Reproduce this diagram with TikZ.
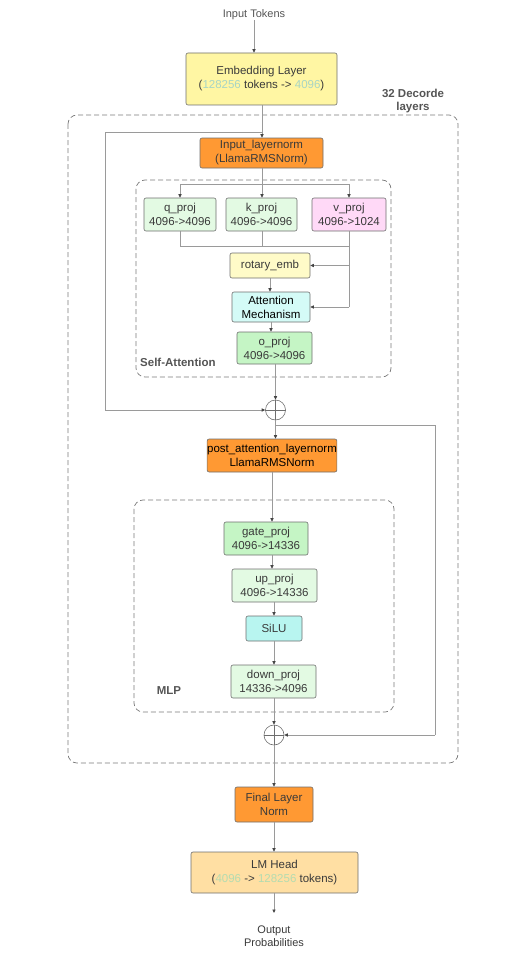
\documentclass[tikz,border=0pt]{standalone}
\usepackage{fontspec}
\setmainfont{Liberation Sans}
\usetikzlibrary{arrows.meta,calc}
\definecolor{linec}{HTML}{9A9A9A}
\definecolor{tipc}{HTML}{444444}
\definecolor{boxline}{HTML}{6E6E6E}
\definecolor{txt}{HTML}{3A3A3A}
\definecolor{lbl}{HTML}{555555}
\definecolor{dashc}{HTML}{7A7A7A}
\definecolor{embfill}{HTML}{FFF6A3}
\definecolor{orangefill}{HTML}{FF9933}
\definecolor{lightgreen}{HTML}{E3FAE3}
\definecolor{midgreen}{HTML}{C5F5C5}
\definecolor{pinkfill}{HTML}{FFD9F7}
\definecolor{rotfill}{HTML}{FFFBC8}
\definecolor{attfill}{HTML}{D4FBF7}
\definecolor{silufill}{HTML}{B8F5F0}
\definecolor{lmfill}{HTML}{FFDFA3}
\definecolor{tealnum}{HTML}{A8D5C4}
\definecolor{greennum}{HTML}{B4DCB0}
\begin{document}
\begin{tikzpicture}[x=1pt,y=-1pt,
  box/.style={draw=boxline, rounded corners=2pt, line width=0.6pt, align=center,
    inner sep=0pt, font=\fontsize{11.5}{14}\selectfont, text=txt},
  conn/.style={draw=linec, line width=0.7pt},
  arr/.style={conn, -{Triangle[length=3.5pt,width=3.2pt,color=tipc]}},
  grp/.style={draw=dashc, dash pattern=on 5pt off 3pt, line width=0.7pt, rounded corners=9pt},
  grplabel/.style={font=\fontsize{11.5}{13}\selectfont\bfseries, text=lbl, align=center, inner sep=0pt},
  plainlabel/.style={font=\fontsize{11}{13}\selectfont, text=txt, align=center, inner sep=0pt},
  plus/.style={circle, draw=boxline, line width=0.6pt, minimum size=20pt, inner sep=0pt}
]
\useasboundingbox (0,0) rectangle (522,963);

% group boxes
\draw[grp] (68,115) rectangle (458,763);
\draw[grp] (136,180) rectangle (391,377);
\draw[grp] (134,500) rectangle (394,712);
\node[grplabel] (declbl) at (413,101) {32 Decorde\\layers};
\node[grplabel, anchor=west] (salbl) at (140,362) {Self-Attention};
\node[grplabel] (mlplbl) at (169,691) {MLP};

% nodes
\node[plainlabel, text=lbl] (inp) at (254,15) {Input Tokens};
\node[box, fill=embfill, minimum width=151pt, minimum height=52pt] (emb) at (261.5,79)
  {Embedding Layer\\(\textcolor{tealnum}{128256} tokens -> \textcolor{tealnum}{4096})};
\node[box, fill=orangefill, minimum width=123pt, minimum height=30pt] (inorm) at (261.5,153)
  {Input\_layernorm\\(LlamaRMSNorm)};
\node[box, fill=lightgreen, minimum width=72pt, minimum height=33pt] (q) at (180,214.5)
  {q\_proj\\4096->4096};
\node[box, fill=lightgreen, minimum width=71pt, minimum height=33pt] (k) at (261.5,214.5)
  {k\_proj\\4096->4096};
\node[box, fill=pinkfill, minimum width=74pt, minimum height=33pt] (v) at (349,214.5)
  {v\_proj\\4096->1024};
\node[box, fill=rotfill, minimum width=80pt, minimum height=25pt] (rot) at (270,265.5)
  {rotary\_emb};
\node[box, fill=attfill, minimum width=78pt, minimum height=30pt, text=black] (att) at (271,307)
  {Attention\\Mechanism};
\node[box, fill=midgreen, minimum width=75pt, minimum height=32pt] (o) at (274.5,348)
  {o\_proj\\4096->4096};
\node[plus] (p1) at (275.5,410) {};
\node[box, fill=orangefill, minimum width=128pt, minimum height=33pt, text=black] (post) at (272,455.5)
  {post\_attention\_layernorm\\LlamaRMSNorm};
\node[box, fill=midgreen, minimum width=84pt, minimum height=33pt] (gate) at (266,538.5)
  {gate\_proj\\4096->14336};
\node[box, fill=lightgreen, minimum width=85pt, minimum height=33pt] (up) at (274.5,585.5)
  {up\_proj\\4096->14336};
\node[box, fill=silufill, minimum width=56pt, minimum height=25pt] (silu) at (274,628.5)
  {SiLU};
\node[box, fill=lightgreen, minimum width=85pt, minimum height=33pt] (down) at (273.5,681.5)
  {down\_proj\\14336->4096};
\node[plus] (p2) at (274,735) {};
\node[box, fill=orangefill, minimum width=78pt, minimum height=35pt] (fin) at (274,804.5)
  {Final Layer\\Norm};
\node[box, fill=lmfill, minimum width=167pt, minimum height=41pt] (lm) at (274.5,872.5)
  {LM Head\\(\textcolor{greennum}{4096} -> \textcolor{greennum}{128256} tokens)};
\node[plainlabel] (outp) at (274,936) {Output\\Probabilities};

% plus crosses
\draw[boxline, line width=0.6pt] (p1.north) -- (p1.south) (p1.west) -- (p1.east);
\draw[boxline, line width=0.6pt] (p2.north) -- (p2.south) (p2.west) -- (p2.east);

% coordinates
\coordinate (r1) at (262,132);
\coordinate (c1) at (105,132);
\coordinate (c2) at (105,410);
\coordinate (split) at (262,184);
\coordinate (merge) at (349,246);
\coordinate (r2) at (275.5,425);
\coordinate (c3) at (435,425);
\coordinate (c4) at (435,735);
\coordinate (outend) at (274,913);

% connectors
\draw[arr] (inp.south) -- (inp.south |- emb.north);
\draw[arr] (emb.south -| r1) -- (inorm.north -| r1);
\draw[conn] (r1) -- (c1) -- (c2);
\draw[arr] (c2) -- (p1.west);
\draw[conn] (inorm.south -| split) -- (split);
\draw[conn] (split -| q.north) -- (split -| v.north);
\draw[arr] (split -| q.north) -- (q.north);
\draw[arr] (split) -- (k.north -| split);
\draw[arr] (split -| v.north) -- (v.north);
\draw[conn] (q.south) -- (q.south |- merge);
\draw[conn] (k.south -| split) -- (split |- merge);
\draw[conn] (q.south |- merge) -- (merge);
\draw[conn] (v.south -| merge) -- (merge |- att.east);
\draw[arr] (merge |- rot.east) -- (rot.east);
\draw[arr] (merge |- att.east) -- (att.east);
\draw[arr] (rot.south) -- (rot.south |- att.north);
\draw[arr] (att.south) -- (att.south |- o.north);
\draw[arr] (o.south -| p1) -- (p1.north);
\draw[arr] (p1.south) -- (p1.south |- post.north);
\draw[conn] (r2) -- (c3) -- (c4);
\draw[arr] (c4) -- (p2.east);
\draw[arr] (post.south) -- (post.south |- gate.north);
\draw[arr] (gate.south -| post.south) -- (up.north -| post.south);
\draw[arr] (up.south -| silu) -- (silu.north);
\draw[arr] (silu.south) -- (silu.south |- down.north);
\draw[arr] (down.south -| p2) -- (p2.north);
\draw[arr] (p2.south) -- (p2.south |- fin.north);
\draw[arr] (fin.south) -- (fin.south |- lm.north);
\draw[arr] (lm.south -| outend) -- (outend);
\end{tikzpicture}
\end{document}
